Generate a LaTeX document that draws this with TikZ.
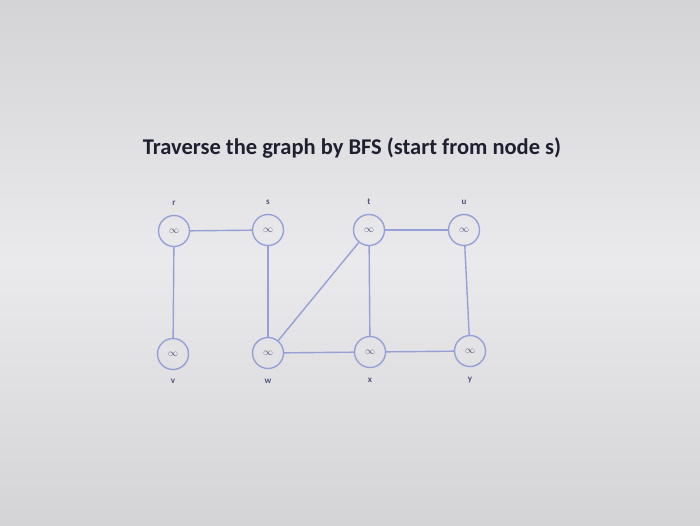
\documentclass[tikz,border=0pt]{standalone}
\usepackage{fontspec}
\setmainfont{Carlito}
\begin{document}
\begin{tikzpicture}[x=1pt,y=-1pt,
  vtx/.style={circle,draw=edgeblue,line width=1.4pt,minimum size=31pt,inner sep=0pt,font=\fontsize{10}{10}\selectfont,text=labgray},
  lab/.style={font=\bfseries\fontsize{9}{9}\selectfont,text=labgray},
  edge/.style={draw=edgeblue,line width=1.4pt}]
\definecolor{edgeblue}{RGB}{150,160,215}
\definecolor{labgray}{RGB}{80,85,120}
\definecolor{bgtop}{RGB}{212,212,214}
\definecolor{bgmid}{RGB}{234,234,236}
\shade[top color=bgtop,bottom color=bgmid] (0,0) rectangle (700,262);
\shade[top color=bgmid,bottom color=bgtop] (0,262) rectangle (700,525);
\useasboundingbox (0,0) rectangle (700,525);
\node[font=\bfseries\fontsize{22.5}{22.5}\selectfont,text={rgb,255:red,30;green,32;blue,48}] (title) at (352,148) {Traverse the graph by BFS (start from node s)};
\node[vtx] (r) at (174,231) {$\infty$};
\node[vtx] (s) at (268,230) {$\infty$};
\node[vtx] (t) at (369,230) {$\infty$};
\node[vtx] (u) at (464,230) {$\infty$};
\node[vtx] (v) at (173,354) {$\infty$};
\node[vtx] (w) at (268,353) {$\infty$};
\node[vtx] (x) at (370,352) {$\infty$};
\node[vtx] (y) at (470,351) {$\infty$};
\node[lab] (lr) at (174,203) {r};
\node[lab] (ls) at (268,202) {s};
\node[lab] (lt) at (369,202) {t};
\node[lab] (lu) at (464,202) {u};
\node[lab] (lv) at (173,381) {v};
\node[lab] (lw) at (268,381) {w};
\node[lab] (lx) at (370,380) {x};
\node[lab] (ly) at (470,380) {y};
\draw[edge] (r) -- (s);
\draw[edge] (t) -- (u);
\draw[edge] (r) -- (v);
\draw[edge] (s) -- (w);
\draw[edge] (t) -- (x);
\draw[edge] (u) -- (y);
\draw[edge] (t) -- (w);
\draw[edge] (w) -- (x);
\draw[edge] (x) -- (y);
\end{tikzpicture}
\end{document}
